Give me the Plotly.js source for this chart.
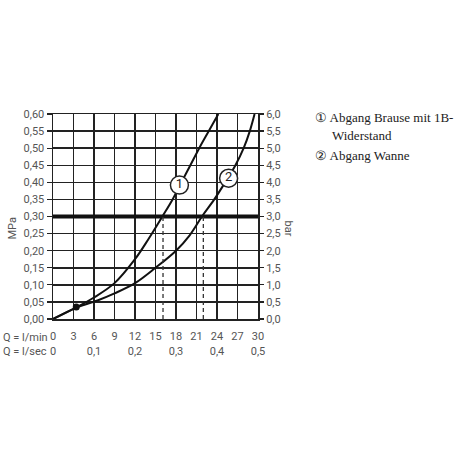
<!DOCTYPE html>
<html>
<head>
<meta charset="utf-8">
<script src="https://cdn.plot.ly/plotly-3.0.1.min.js"></script>
<style>html,body{margin:0;padding:0;background:#fff}#chart{width:470px;height:470px}</style>
</head>
<body>
<div id="chart"></div>
<script>
// Flow rate in l/min and pressure in MPa
const curve1Q = [0, 3.5, 6, 9, 12, 14, 16, 17.5, 18.8, 20.1, 21.4, 22.8, 24.2];
const curve1P = [0, 0.035, 0.063, 0.105, 0.175, 0.235, 0.30, 0.35, 0.40, 0.45, 0.50, 0.55, 0.60];
const curve2Q = [0, 3.5, 6.6, 9, 12, 15, 18, 20, 21.8, 23.6, 25.2, 26.7, 27.9, 28.8, 29.5];
const curve2P = [0, 0.034, 0.055, 0.075, 0.105, 0.15, 0.20, 0.245, 0.30, 0.35, 0.40, 0.45, 0.50, 0.55, 0.60];
const refPressure = 0.30;
const refFlows = [16.1, 22.0];
const pointQ = [3.4];
const pointP = [0.035];
const labelQ = [18.5, 25.7];
const labelP = [0.392, 0.412];
const labelText = ['1', '2'];
const lminTicks = [0, 3, 6, 9, 12, 15, 18, 21, 24, 27, 30];
const lminText = ['0','3','6','9','12','15','18','21','24','27','30'];
const lsecTicks = [0, 0.1, 0.2, 0.3, 0.4, 0.5];
const lsecText = ['0','0,1','0,2','0,3','0,4','0,5'];
const legendLines = ['\u2460 Abgang Brause mit 1B-', 'Widerstand', '\u2461 Abgang Wanne'];

const tickFont = {family: 'Roboto, sans-serif', size: 11, color: '#555'};
const traces = [
  {x: curve1Q, y: curve1P, mode: 'lines', line: {color: '#111', width: 2, shape: 'spline'}, hoverinfo: 'skip'},
  {x: curve2Q, y: curve2P, mode: 'lines', line: {color: '#111', width: 2, shape: 'spline'}, hoverinfo: 'skip'},
  {x: [0, 30], y: [refPressure, refPressure], mode: 'lines', line: {color: '#111', width: 4}},
  {x: [refFlows[0], refFlows[0]], y: [0, refPressure], mode: 'lines', line: {color: '#333', width: 1.3, dash: '4px,3px'}},
  {x: [refFlows[1], refFlows[1]], y: [0, refPressure], mode: 'lines', line: {color: '#333', width: 1.3, dash: '4px,3px'}},
  {x: pointQ, y: pointP, mode: 'markers', marker: {color: '#111', size: 7}},
  {x: labelQ, y: labelP, mode: 'markers+text', text: labelText, textposition: 'middle center',
   textfont: {family: 'Roboto, sans-serif', size: 13, color: '#222'},
   marker: {color: '#fff', size: 18, line: {color: '#222', width: 1.5}}}
];
const yBottom = 0.1048;
const layout = {
  width: 470, height: 470,
  margin: {l: 53, r: 212, t: 114, b: 127},
  paper_bgcolor: '#fff', plot_bgcolor: '#fff',
  showlegend: false,
  separators: ',.',
  xaxis: {range: [0, 30], tickvals: lminTicks, ticktext: lminText, tickfont: tickFont,
    showgrid: true, gridcolor: '#222', gridwidth: 1.5, zeroline: false,
    showline: true, mirror: true, linecolor: '#222', linewidth: 1.5, ticks: '', ticklabelstandoff: 6,
    anchor: 'y', fixedrange: true},
  xaxis2: {range: [0, 0.5], tickvals: lsecTicks, ticktext: lsecText, tickfont: tickFont,
    overlaying: 'x', anchor: 'free', position: 0, side: 'bottom', showgrid: false, zeroline: false,
    showline: false, ticks: '', ticklabelstandoff: 0},
  yaxis: {range: [0, 0.6], dtick: 0.05, tick0: 0, tickformat: '.2f', tickfont: tickFont, domain: [yBottom, 1],
    showgrid: true, gridcolor: '#222', gridwidth: 1.5, zeroline: false,
    showline: true, mirror: true, linecolor: '#222', linewidth: 1.5,
    ticks: 'outside', ticklen: 5, tickcolor: '#222', tickwidth: 1.2},
  yaxis2: {range: [0, 6], dtick: 0.5, tick0: 0, tickformat: '.1f', tickfont: tickFont,
    overlaying: 'y', side: 'right', showgrid: false, zeroline: false,
    ticks: 'outside', ticklen: 5, tickcolor: '#222', tickwidth: 1.2},
  annotations: [
    {text: 'Q = l/min', xref: 'paper', yref: 'paper', x: -0.254, y: 0.026, xanchor: 'left', yanchor: 'middle', showarrow: false, font: tickFont},
    {text: 'Q = l/sec', xref: 'paper', yref: 'paper', x: -0.254, y: -0.039, xanchor: 'left', yanchor: 'middle', showarrow: false, font: tickFont},
    {text: 'MPa', xref: 'paper', yref: 'paper', x: -0.2, y: 0.5, textangle: -90, xanchor: 'center', yanchor: 'middle', showarrow: false, font: tickFont},
    {text: 'bar', xref: 'paper', yref: 'paper', x: 1.151, y: 0.5, textangle: 90, xanchor: 'center', yanchor: 'middle', showarrow: false, font: tickFont},
    {text: legendLines[0], xref: 'paper', yref: 'paper', x: 1.268, y: 0.983, xanchor: 'left', yanchor: 'middle', showarrow: false, font: {family: 'Liberation Serif, serif', size: 13, color: '#222'}},
    {text: legendLines[1], xref: 'paper', yref: 'paper', x: 1.35, y: 0.908, xanchor: 'left', yanchor: 'middle', showarrow: false, font: {family: 'Liberation Serif, serif', size: 13, color: '#222'}},
    {text: legendLines[2], xref: 'paper', yref: 'paper', x: 1.268, y: 0.817, xanchor: 'left', yanchor: 'middle', showarrow: false, font: {family: 'Liberation Serif, serif', size: 13, color: '#222'}}
  ]
};
// invisible trace to activate the secondary axes
traces.push({x: [0], y: [0], xaxis: 'x2', yaxis: 'y2', mode: 'markers', marker: {opacity: 0}, hoverinfo: 'skip'});
Plotly.newPlot('chart', traces, layout, {staticPlot: true});
</script>
</body>
</html>
